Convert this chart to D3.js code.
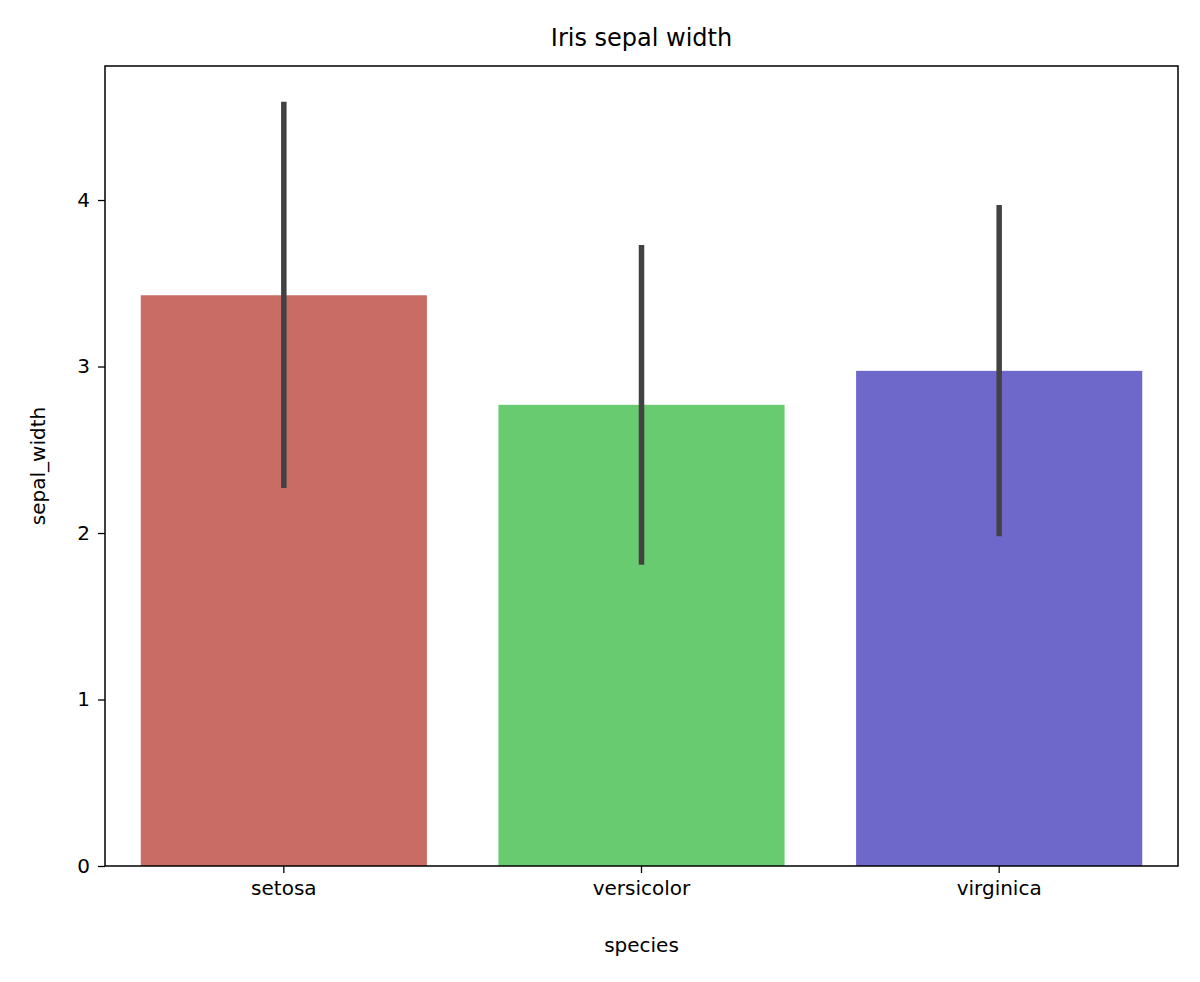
<!DOCTYPE html>
<html><head><meta charset="utf-8">
<script src="https://cdn.jsdelivr.net/npm/d3@7"></script>
<style>body{margin:0;background:#fff}text{font-family:"DejaVu Sans",sans-serif;fill:#000}</style>
</head><body>
<svg id="c" width="1200" height="982"></svg>
<script>
const categories = ["setosa","versicolor","virginica"];
const means = [3.428, 2.770, 2.974];
const ciLow = [2.27, 1.81, 1.98];
const ciHigh = [4.59, 3.73, 3.97];
const colors = ["#c96c65","#68cb6f","#6f68cb"];
const yTicks = [0,1,2,3,4];

const svg = d3.select("#c");
const L=105,R=1178,T=66,B=866;
const x = d3.scaleBand().domain(categories).range([L,R]).paddingInner(0.2).paddingOuter(0.1);
const y = d3.scaleLinear().domain([0,4.805]).range([B,T]);

svg.selectAll("rect.bar").data(categories).join("rect")
  .attr("x",d=>x(d)).attr("width",x.bandwidth())
  .attr("y",(d,i)=>y(means[i])).attr("height",(d,i)=>B-y(means[i]))
  .attr("fill",(d,i)=>colors[i]);
svg.selectAll("line.err").data(categories).join("line")
  .attr("x1",d=>x(d)+x.bandwidth()/2).attr("x2",d=>x(d)+x.bandwidth()/2)
  .attr("y1",(d,i)=>y(ciLow[i])).attr("y2",(d,i)=>y(ciHigh[i]))
  .attr("stroke","#424242").attr("stroke-width",5.5);

const gx = svg.append("g").attr("transform",`translate(0,${B})`)
  .call(d3.axisBottom(x).tickSizeOuter(0).tickSize(7).tickPadding(8));
const gy = svg.append("g").attr("transform",`translate(${L},0)`)
  .call(d3.axisLeft(y).tickValues(yTicks).tickFormat(d3.format("d")).tickSizeOuter(0).tickSize(7).tickPadding(8));
[gx,gy].forEach(g=>{g.select(".domain").remove();g.selectAll("text").style("font-size","20px").style("font-family","DejaVu Sans");g.selectAll("line").attr("stroke","#000").attr("stroke-width",1.3);});
svg.append("rect").attr("x",L).attr("y",T).attr("width",R-L).attr("height",B-T)
  .attr("fill","none").attr("stroke","#000").attr("stroke-width",1.5);

svg.append("text").attr("x",(L+R)/2).attr("y",46).attr("text-anchor","middle").style("font-size","24px").text("Iris sepal width");
svg.append("text").attr("x",(L+R)/2).attr("y",952).attr("text-anchor","middle").style("font-size","20px").text("species");
svg.append("text").attr("transform",`translate(45,${(T+B)/2}) rotate(-90)`).attr("text-anchor","middle").style("font-size","20px").text("sepal_width");
</script></body></html>
